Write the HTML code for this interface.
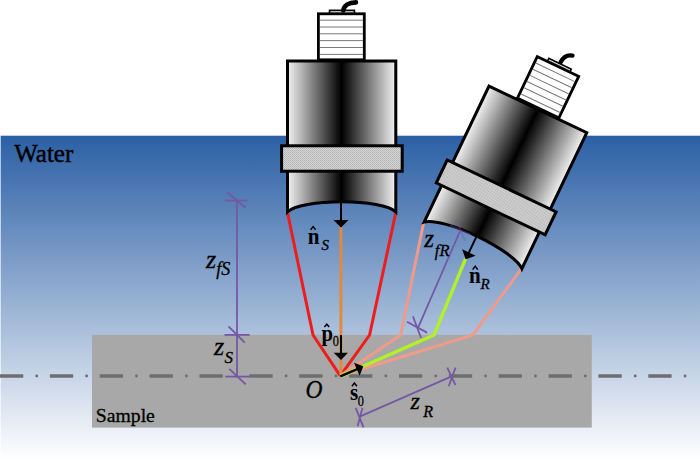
<!DOCTYPE html>
<html><head><meta charset="utf-8">
<style>
html,body{margin:0;padding:0;background:#fff;}
svg{display:block;}
text{font-family:"Liberation Serif",serif;stroke:#000;stroke-width:0.3px;}
</style></head>
<body>
<svg width="700" height="460" viewBox="0 0 700 460">
<defs>
<linearGradient id="water0" x1="0" y1="135.7" x2="0" y2="460" gradientUnits="userSpaceOnUse">
<stop offset="0" stop-color="#a8c6ee"/>
<stop offset="1" stop-color="#ffffff"/>
</linearGradient>
<linearGradient id="water" x1="0" y1="135.7" x2="0" y2="460" gradientUnits="userSpaceOnUse">
<stop offset="0" stop-color="#2b5fa5"/>
<stop offset="1" stop-color="#ffffff"/>
</linearGradient>
<linearGradient id="metal" x1="287.5" y1="0" x2="395.8" y2="0" gradientUnits="userSpaceOnUse">
<stop offset="0" stop-color="#f2f2f2"/>
<stop offset="0.5" stop-color="#000000"/>
<stop offset="1" stop-color="#f2f2f2"/>
</linearGradient>
<pattern id="dots" width="2" height="2" patternUnits="userSpaceOnUse">
<rect width="2" height="2" fill="#d6d6d6"/>
<rect x="0" y="0" width="1" height="1" fill="#b4b4b4"/>
<rect x="1" y="1" width="1" height="1" fill="#bcbcbc"/>
</pattern>
</defs>

<rect x="0" y="135.7" width="1" height="325" fill="url(#water0)"/>
<rect x="1" y="135.7" width="699" height="325" fill="url(#water)"/>
<rect x="92" y="334.8" width="499.8" height="92.8" fill="#a8a8a8"/>

<!-- dash-dot axis -->
<line x1="0" y1="376" x2="690" y2="376" stroke="#6e6e6e" stroke-width="3.4" stroke-dasharray="23.3 26.57"/>
<line x1="36.7" y1="376" x2="690" y2="376" stroke="#6e6e6e" stroke-width="2.8" stroke-dasharray="0.1 49.77" stroke-linecap="round"/>

<!-- rays -->
<polyline points="287.5,212.5 313,335 340.3,375.8" fill="none" stroke="#ee1c1c" stroke-width="3"/>
<polyline points="395.8,212.5 369.6,335 340.3,375.8" fill="none" stroke="#ee1c1c" stroke-width="3"/>
<line x1="340.9" y1="227" x2="340.9" y2="374.5" stroke="#e4883a" stroke-width="2.9"/>
<polyline points="423.9,221.4 400.7,335 340.3,375.8" fill="none" stroke="#f09a8a" stroke-width="3"/>
<polyline points="521.8,268.1 473,335 340.3,375.8" fill="none" stroke="#f09a8a" stroke-width="3"/>
<polyline points="465.6,258.7 434,335 340.3,376.4" fill="none" stroke="#b2f028" stroke-width="3.4"/>

<!-- transducers -->
<g>
<rect x="329.6" y="10.4" width="24.8" height="3.6" fill="#fff" stroke="#000" stroke-width="1.7"/>
<line x1="331" y1="12.2" x2="353" y2="12.2" stroke="#aaa" stroke-width="0.9"/>
<rect x="318.4" y="13.8" width="45.9" height="46" fill="#fff" stroke="#000" stroke-width="2.8"/>
<g stroke="#7a7a7a" stroke-width="1">
<line x1="319.8" y1="20.2" x2="363" y2="20.2"/>
<line x1="319.8" y1="27" x2="363" y2="27"/>
<line x1="319.8" y1="33.8" x2="363" y2="33.8"/>
<line x1="319.8" y1="40.6" x2="363" y2="40.6"/>
<line x1="319.8" y1="47.5" x2="363" y2="47.5"/>
<line x1="319.8" y1="54.4" x2="363" y2="54.4"/>
</g>
<path d="M287.5,61.1 L395.8,61.1 L395.8,211.8 A56,13.5 0 0 0 287.5,211.8 Z" fill="url(#metal)" stroke="#000" stroke-width="3" stroke-linejoin="miter"/>
<rect x="281.6" y="145.8" width="120.6" height="25.4" fill="url(#dots)" stroke="#000" stroke-width="3"/>
<line x1="341" y1="203" x2="341" y2="221" stroke="#000" stroke-width="2"/>
<polygon points="333.5,220 348.5,220 341,227.5" fill="#000"/>
</g>
<path d="M343.3,10.5 C343.8,5.5 348.5,2.5 356,2.4" fill="none" stroke="#000" stroke-width="4.6" stroke-linecap="round"/>
<path d="M560.6,62.3 C563,57.5 566.5,54.5 572.5,55.6" fill="none" stroke="#000" stroke-width="4.3" stroke-linecap="round"/>
<g transform="translate(538.1,108.6) rotate(25.5) translate(-341.5,-60.3)">
<rect x="329.6" y="10.4" width="24.8" height="3.6" fill="#fff" stroke="#000" stroke-width="1.7"/>
<line x1="331" y1="12.2" x2="353" y2="12.2" stroke="#aaa" stroke-width="0.9"/>
<rect x="318.4" y="13.8" width="45.9" height="46" fill="#fff" stroke="#000" stroke-width="2.8"/>
<g stroke="#7a7a7a" stroke-width="1">
<line x1="319.8" y1="20.2" x2="363" y2="20.2"/>
<line x1="319.8" y1="27" x2="363" y2="27"/>
<line x1="319.8" y1="33.8" x2="363" y2="33.8"/>
<line x1="319.8" y1="40.6" x2="363" y2="40.6"/>
<line x1="319.8" y1="47.5" x2="363" y2="47.5"/>
<line x1="319.8" y1="54.4" x2="363" y2="54.4"/>
</g>
<path d="M287.5,61.1 L395.8,61.1 L395.8,211.8 A56,13.5 0 0 0 287.5,211.8 Z" fill="url(#metal)" stroke="#000" stroke-width="3" stroke-linejoin="miter"/>
<rect x="281.6" y="145.8" width="120.6" height="25.4" fill="url(#dots)" stroke="#000" stroke-width="3"/>
<line x1="341" y1="203" x2="341" y2="221" stroke="#000" stroke-width="2"/>
<polygon points="333.5,220 348.5,220 341,227.5" fill="#000"/>
</g>

<!-- p0 arrow -->
<line x1="341" y1="335" x2="341" y2="353" stroke="#000" stroke-width="2"/>
<polygon points="333.7,352.8 348,352.8 341,360" fill="#000"/>
<!-- s0 arrow -->
<line x1="340.3" y1="376.4" x2="357.8" y2="368.9" stroke="#000" stroke-width="2.4"/>
<polygon points="354,362.8 359.6,375.8 363.3,366.2" fill="#000"/>

<!-- dimension lines -->
<g stroke="#7558a5" stroke-width="1.8" fill="none">
<line x1="237" y1="200.5" x2="237" y2="376.6"/>
<line x1="224.8" y1="200.5" x2="247.4" y2="200.5"/>
<line x1="227.4" y1="192.5" x2="245.7" y2="207.8"/>
<line x1="224.5" y1="334.9" x2="249.7" y2="334.9"/>
<line x1="228.5" y1="326.4" x2="244.8" y2="342.7"/>
<line x1="225.3" y1="376.6" x2="250" y2="376.6"/>
<line x1="229.3" y1="368.8" x2="245.7" y2="384.3"/>
<line x1="359.6" y1="416.6" x2="451.6" y2="376.4"/>
<line x1="355.7" y1="407.8" x2="363.5" y2="427.3"/>
<line x1="362.5" y1="407.8" x2="357.6" y2="426.3"/>
<line x1="447.3" y1="367.6" x2="455.5" y2="385.2"/>
<line x1="455.5" y1="367.6" x2="448.7" y2="386.2"/>
<line x1="417.8" y1="328.3" x2="460.5" y2="230"/>
<line x1="407" y1="321.7" x2="427" y2="332.6"/>
<line x1="412.9" y1="316.3" x2="421.1" y2="338"/>
</g>
<g stroke="#7558a5" stroke-width="1.8" fill="none" opacity="0.4">
<line x1="450" y1="225.4" x2="470.6" y2="234.6"/>
<line x1="456" y1="219" x2="465" y2="241"/>
</g>

<!-- labels -->
<text x="14.2" y="162.4" font-size="25" fill="#000" style="stroke-width:0.45px">Water</text>
<text x="95.8" y="422.2" font-size="19.7" fill="#000">Sample</text>
<text transform="translate(305.4,397.5) scale(0.94,1)" font-size="25" font-style="italic" fill="#000">O</text>

<text x="206" y="268" font-size="26" font-style="italic" fill="#000">z</text>
<text x="216.3" y="275.4" font-size="18" font-style="italic" fill="#000">fS</text>
<text x="213.9" y="355" font-size="26" font-style="italic" fill="#000">z</text>
<text x="224.5" y="363" font-size="17" font-style="italic" fill="#000">S</text>
<text x="424.3" y="247" font-size="25" font-style="italic" fill="#000">z</text>
<text x="434.8" y="255.6" font-size="16.5" font-style="italic" fill="#000">fR</text>
<text x="410.5" y="408.7" font-size="24" font-style="italic" fill="#000">z</text>
<text x="423.2" y="416.6" font-size="16" font-style="italic" fill="#000">R</text>

<g fill="none" stroke="#000" stroke-width="1.5">
<path d="M310.6,229.8 L313.1,226.6 L315.6,229.8"/>
<path d="M324.4,327 L326.8,324.2 L329.2,327"/>
<path d="M351.9,386.2 L354.4,383 L356.9,386.2"/>
<path d="M472.6,269.6 L475.2,266.2 L477.8,269.6"/>
</g>
<text transform="translate(307.8,243.6) scale(0.88,1)" font-size="24" font-weight="bold" fill="#000" style="stroke-width:0">n</text>
<text x="321.5" y="249.6" font-size="15" font-style="italic" fill="#000">S</text>
<text transform="translate(321.6,341) scale(0.9,1)" font-size="23" font-weight="bold" fill="#000" style="stroke-width:0">p</text>
<text transform="translate(332.8,346.2) scale(0.85,1)" font-size="14.5" fill="#000">0</text>
<text transform="translate(349.9,399.9) scale(0.88,1)" font-size="24" font-weight="bold" fill="#000" style="stroke-width:0">s</text>
<text transform="translate(357.8,405.8) scale(0.85,1)" font-size="14.5" fill="#000">0</text>
<text transform="translate(468.9,282.6) scale(0.88,1)" font-size="24" font-weight="bold" fill="#000" style="stroke-width:0">n</text>
<text x="480.5" y="288.5" font-size="15" font-style="italic" fill="#000">R</text>
</svg>
</body></html>
